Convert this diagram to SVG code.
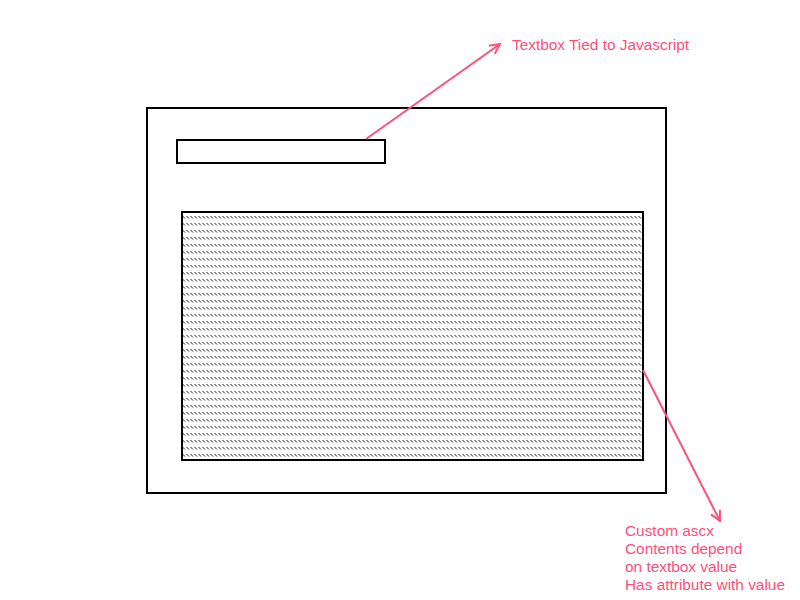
<svg xmlns="http://www.w3.org/2000/svg" width="800" height="600" viewBox="0 0 800 600">
<style>
.box{fill:none;stroke:#000;stroke-width:2}
.conn{stroke:#ff4f7b;stroke-width:2;fill:none}
.lbl{font-family:"Liberation Sans",Arial,sans-serif;font-size:15.4px;fill:#ff4f7b}
</style>
<defs>
<pattern id="hatch" patternUnits="userSpaceOnUse" x="182" y="215" width="4" height="7">
<line x1="0.5" y1="1" x2="3" y2="3.5" stroke="#000" stroke-width="0.9"/>
</pattern>
<marker id="arr" viewBox="0 0 12 12" refX="11" refY="6" markerWidth="12" markerHeight="12" markerUnits="userSpaceOnUse" orient="auto">
<path d="M1,1 L11,6 L1,11" fill="none" stroke="#ff4f7b" stroke-width="2"/>
</marker>
</defs>
<rect width="800" height="600" fill="#fff"/>
<g id="page"><rect class="box" x="147" y="108" width="519" height="385"/></g>
<g id="textbox"><rect class="box" x="177" y="140" width="208" height="23"/></g>
<g id="ascx"><rect x="182" y="212" width="461" height="248" fill="url(#hatch)" stroke="#000" stroke-width="2"/></g>
<g id="connectors">
<line class="conn" x1="366" y1="139" x2="500" y2="44" marker-end="url(#arr)"/>
<line class="conn" x1="643" y1="370" x2="720" y2="521" marker-end="url(#arr)"/>
</g>
<g id="label-textbox"><text class="lbl" x="512" y="50">Textbox Tied to Javascript</text></g>
<g id="label-ascx">
<text class="lbl" x="625" y="536">Custom ascx</text>
<text class="lbl" x="625" y="554">Contents depend</text>
<text class="lbl" x="625" y="572">on textbox value</text>
<text class="lbl" x="625" y="590">Has attribute with value</text>
</g>
</svg>
